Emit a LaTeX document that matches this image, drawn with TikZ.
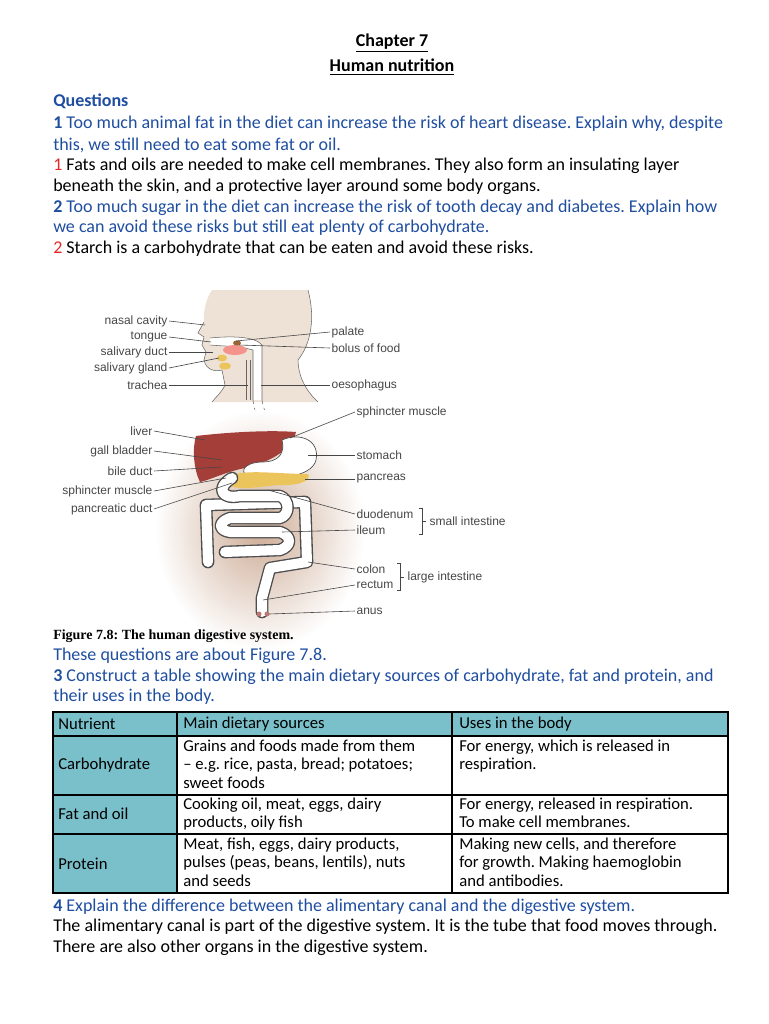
\documentclass[tikz,border=0pt]{standalone}
\usepackage{fontspec}
\setmainfont{Carlito}
\newfontfamily\figfont{Liberation Sans}
\newfontfamily\capfont{Liberation Serif}
\usetikzlibrary{positioning,calc}
\definecolor{qblue}{RGB}{31,78,160}
\definecolor{ansred}{RGB}{230,40,40}
\definecolor{teal}{RGB}{122,192,202}
\definecolor{skin}{RGB}{238,226,214}
\definecolor{liverc}{RGB}{163,62,56}
\definecolor{panc}{RGB}{236,196,92}
\definecolor{belly}{RGB}{205,172,150}
\definecolor{lblc}{RGB}{70,70,70}
\tikzset{
  txt/.style={anchor=west,inner sep=0pt,font=\fontsize{13.5}{15}\selectfont},
  q/.style={txt,text=qblue},
  lbl/.style={inner sep=1pt,text=lblc,font=\figfont\fontsize{9}{10}\selectfont},
  lbl left/.style={lbl,anchor=east},
  lbl right/.style={lbl,anchor=west},
  lead/.style={draw=lblc,line width=0.45pt},
  cell/.style={anchor=north west,inner sep=0pt,align=left,font=\fontsize{12.5}{13.6}\selectfont},
  head/.style={txt,font=\fontsize{12.5}{14}\selectfont},
  tube/.style={line width=9.5pt,draw=black!70,line cap=round,line join=round},
  tube in/.style={line width=7.5pt,draw=white,line cap=round,line join=round}
}
\begin{document}
\frenchspacing
\begin{tikzpicture}[x=0.75pt,y=-0.75pt]
  \useasboundingbox (0,0) rectangle (768,1024);
  % heading
  \node[font=\bfseries\fontsize{13.5}{15}\selectfont] (chap)  at (392,43) {\underline{Chapter 7}};
  \node[font=\bfseries\fontsize{13.5}{15}\selectfont] (title) at (392,67) {\underline{Human nutrition}};
  % questions 1 and 2
  \node[q,font=\bfseries\fontsize{13.5}{15}\selectfont] (qs) at (53,101) {Questions};
  \node[q] (q1a) at (53,124) {\textbf{1} Too much animal fat in the diet can increase the risk of heart disease. Explain why, despite};
  \node[q] (q1b) at (53,145) {this, we still need to eat some fat or oil.};
  \node[txt] (a1a) at (53,166) {\textcolor{ansred}{1} Fats and oils are needed to make cell membranes. They also form an insulating layer};
  \node[txt] (a1b) at (53,187) {beneath the skin, and a protective layer around some body organs.};
  \node[q] (q2a) at (53,208) {\textbf{2} Too much sugar in the diet can increase the risk of tooth decay and diabetes. Explain how};
  \node[q] (q2b) at (53,228) {we can avoid these risks but still eat plenty of carbohydrate.};
  \node[txt] (a2) at (53,249) {\textcolor{ansred}{2} Starch is a carbohydrate that can be eaten and avoid these risks.};

  % figure: head
  \fill[skin] (212,290) .. controls (205,300) and (203,315) .. (204,322) -- (198,333) -- (204,337)
    -- (202,345) -- (206,352) -- (204,360) .. controls (206,370) and (215,372) .. (222,370)
    -- (225,385) .. controls (222,392) and (215,398) .. (212,402) -- (318,402)
    .. controls (305,390) and (298,375) .. (298,360) .. controls (310,345) and (316,320) .. (308,290) -- cycle;
  \draw[black!60,line width=0.4pt] (204,322) -- (198,333) -- (204,337) -- (202,345) -- (206,352) -- (204,360)
    .. controls (206,370) and (215,372) .. (222,370) -- (225,385) .. controls (222,392) and (215,398) .. (212,402);
  \draw[black!60,line width=0.4pt] (308,290) .. controls (316,320) and (310,345) .. (298,360)
    .. controls (298,375) and (305,390) .. (318,402);
  \fill[white] (210,338) .. controls (230,336) and (255,336) .. (262,345) -- (262,400) -- (253,400) -- (253,350)
    .. controls (240,346) and (220,346) .. (210,345) -- cycle;
  \draw[black!60,line width=0.4pt] (210,338) .. controls (230,336) and (255,336) .. (262,345) -- (262,400);
  \draw[black!60,line width=0.4pt] (253,400) -- (253,350) .. controls (240,346) and (220,346) .. (210,345);
  \draw[black!60,line width=0.4pt] (246,360) -- (246,400) (250,360) -- (250,400);
  \fill[red!35!skin] (235,350) ellipse [x radius=12, y radius=5];
  \fill[brown!80!black] (237,343) ellipse [x radius=4, y radius=2.5];
  \fill[panc] (222,358) ellipse [x radius=5, y radius=3.5] (225,366) ellipse [x radius=6, y radius=3.5];
  \draw[black!60,dashed,line width=0.4pt] (253,400) .. controls (254,415) and (262,425) .. (280,438)
    (262,400) .. controls (264,415) and (272,425) .. (289,436);
  % abdomen
  \shade[inner color=belly,outer color=white] (260,530) ellipse [x radius=105, y radius=120];
  \fill[liverc] (196,436) .. controls (230,432) and (270,430) .. (296,432) .. controls (292,450) and (270,462) .. (245,468)
    .. controls (225,472) and (210,480) .. (200,482) .. controls (194,470) and (192,450) .. cycle;
  \draw[fill=white,draw=black!70,line width=0.5pt] (282,440) .. controls (300,432) and (320,440) .. (316,460)
    .. controls (312,478) and (270,482) .. (245,474) .. controls (240,468) and (250,462) .. (262,462)
    .. controls (280,462) and (285,452) .. cycle;
  \fill[panc] (226,478) .. controls (240,468) and (275,474) .. (308,474) .. controls (312,480) and (300,486) .. (280,485)
    .. controls (260,486) and (240,492) .. (226,484) -- cycle;
  % large intestine
  \draw[tube] (208,562) -- (206,505) -- (305,502) -- (307,562) -- (270,568) -- (262,598) -- (262,612);
  \draw[tube in] (208,562) -- (206,505) -- (305,502) -- (307,562) -- (270,568) -- (262,598) -- (262,612);
  % small intestine
  \draw[tube] (232,478) .. controls (215,488) and (222,500) .. (240,496) -- (280,496)
    .. controls (290,500) and (290,515) .. (280,518) -- (230,518) .. controls (218,522) and (218,530) .. (230,532)
    -- (280,532) .. controls (292,536) and (292,546) .. (280,550) -- (225,552);
  \draw[tube in] (232,478) .. controls (215,488) and (222,500) .. (240,496) -- (280,496)
    .. controls (290,500) and (290,515) .. (280,518) -- (230,518) .. controls (218,522) and (218,530) .. (230,532)
    -- (280,532) .. controls (292,536) and (292,546) .. (280,550) -- (225,552);
  \fill[liverc!70] (259,614) circle (2.5) (267,614) circle (2.5);

  % figure labels
  \node[lbl left] (nasal)   at (169,321) {nasal cavity};
  \node[lbl left] (tongue)  at (169,337) {tongue};
  \node[lbl left] (sduct)   at (169,352) {salivary duct};
  \node[lbl left] (sgland)  at (169,368) {salivary gland};
  \node[lbl left] (trachea) at (169,385) {trachea};
  \node[lbl left] (liver)   at (154,431) {liver};
  \node[lbl left] (gall)    at (154,451) {gall bladder};
  \node[lbl left] (bduct)   at (154,471) {bile duct};
  \node[lbl left] (sphl)    at (154,491) {sphincter muscle};
  \node[lbl left] (pduct)   at (154,509) {pancreatic duct};
  \node[lbl right] (palate) at (330,332) {palate};
  \node[lbl right] (bolus)  at (330,348) {bolus of food};
  \node[lbl right] (oeso)   at (330,385) {oesophagus};
  \node[lbl right] (sphr)   at (355,412) {sphincter muscle};
  \node[lbl right] (stom)   at (355,455) {stomach};
  \node[lbl right] (pancr)  at (355,479) {pancreas};
  \node[lbl right] (duod)   at (355,514) {duodenum};
  \node[lbl right] (ileum)  at (355,530) {ileum};
  \node[lbl right] (colon)  at (355,569) {colon};
  \node[lbl right] (rectum) at (355,585) {rectum};
  \node[lbl right] (anus)   at (355,611) {anus};
  \node[lbl right] (small)  at (428,521) {small intestine};
  \node[lbl right] (large)  at (406,577) {large intestine};
  \draw[lblc,line width=0.45pt] (419,508) -- (422,508) -- (422,534) -- (419,534) (422,521) -- (426,521);
  \draw[lblc,line width=0.45pt] (397,563) -- (400,563) -- (400,590) -- (397,590) (400,577) -- (404,577);
  % leader lines
  \draw[lead] (nasal.east) -- (205,325);
  \draw[lead] (tongue.east) -- (211,342);
  \draw[lead] (sduct.east) -- (213,352);
  \draw[lead] (sgland.east) -- (219,358);
  \draw[lead] (trachea.east) -- (248,385);
  \draw[lead] (liver.east) -- (205,440);
  \draw[lead] (gall.east) -- (222,460);
  \draw[lead] (bduct.east) -- (222,467);
  \draw[lead] (sphl.east) -- (226,478);
  \draw[lead] (pduct.east) -- (232,483);
  \draw[lead] (palate.west) -- (236,341);
  \draw[lead] (bolus.west) -- (239,345);
  \draw[lead] (oeso.west) -- (261,385);
  \draw[lead] (sphr.west) -- (290,438);
  \draw[lead] (stom.west) -- (308,455);
  \draw[lead] (pancr.west) -- (305,479);
  \draw[lead] (duod.west) -- (268,490);
  \draw[lead] (ileum.west) -- (282,532);
  \draw[lead] (colon.west) -- (308,562);
  \draw[lead] (rectum.west) -- (263,600);
  \draw[lead] (anus.west) -- (269,614);
  \node[anchor=west,inner sep=0pt,font=\capfont\bfseries\fontsize{10.5}{12}\selectfont] (cap) at (53,636)
    {Figure 7.8: The human digestive system.};

  % question 3
  \node[q] (q3a) at (53,656) {These questions are about Figure 7.8.};
  \node[q] (q3b) at (53,677) {\textbf{3} Construct a table showing the main dietary sources of carbohydrate, fat and protein, and};
  \node[q] (q3c) at (53,697) {their uses in the body.};
  % table
  \fill[teal] (53,712) rectangle (728,736) (53,736) rectangle (177,893);
  \draw[line width=1.2pt] (53,712) rectangle (728,893);
  \foreach \y in {736,795,834} \draw[line width=1pt] (53,\y) -- (728,\y);
  \foreach \x in {177,452} \draw[line width=1pt] (\x,712) -- (\x,893);
  \node[head] (hnut) at (58,724) {Nutrient};
  \node[head] (hsrc) at (183,724) {Main dietary sources};
  \node[head] (huse) at (459,724) {Uses in the body};
  \node[head] (ncarb) at (58,765) {Carbohydrate};
  \node[head] (nfat)  at (58,814) {Fat and oil};
  \node[head] (nprot) at (58,864) {Protein};
  \node[cell] (scarb) at (183,740) {Grains and foods made from them\\ -- e.g. rice, pasta, bread; potatoes;\\ sweet foods};
  \node[cell] (ucarb) at (459,740) {For energy, which is released in\\ respiration.};
  \node[cell] (sfat)  at (183,798) {Cooking oil, meat, eggs, dairy\\ products, oily fish};
  \node[cell] (ufat)  at (459,798) {For energy, released in respiration.\\ To make cell membranes.};
  \node[cell] (sprot) at (183,838) {Meat, fish, eggs, dairy products,\\ pulses (peas, beans, lentils), nuts\\ and seeds};
  \node[cell] (uprot) at (459,838) {Making new cells, and therefore\\ for growth. Making haemoglobin\\ and antibodies.};

  % question 4
  \node[q] (q4) at (53,907) {\textbf{4} Explain the difference between the alimentary canal and the digestive system.};
  \node[txt] (a4a) at (53,927) {The alimentary canal is part of the digestive system. It is the tube that food moves through.};
  \node[txt] (a4b) at (53,948) {There are also other organs in the digestive system.};
\end{tikzpicture}
\end{document}
